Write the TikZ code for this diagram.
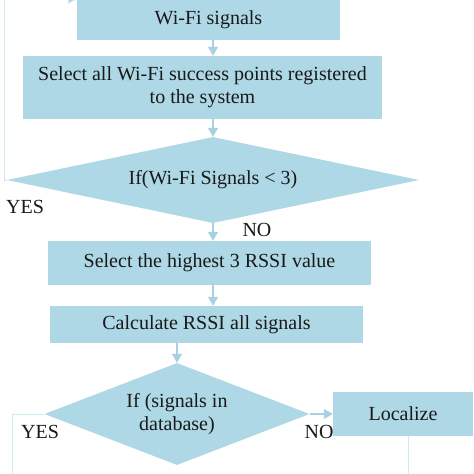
\documentclass[tikz,border=0pt]{standalone}
\usepackage{fontspec}
\setmainfont{Liberation Serif}
\usetikzlibrary{shapes.geometric,arrows.meta}
\definecolor{boxblue}{RGB}{174,216,229}
\definecolor{arrblue}{RGB}{168,210,226}
\definecolor{fbline}{RGB}{208,232,240}
\definecolor{txt}{RGB}{25,25,25}
\tikzset{
  procbox/.style={rectangle, fill=boxblue, draw=none, inner sep=0pt, text=txt, align=center,
    font=\fontsize{20}{23}\selectfont},
  decbox/.style={diamond, fill=boxblue, draw=none, inner sep=0pt, text=txt, align=center,
    font=\fontsize{20}{23}\selectfont},
  lbl/.style={inner sep=0pt, text=txt, font=\fontsize{20}{23}\selectfont},
  arr/.style={draw=arrblue, line width=1.3pt, -{Triangle[width=10pt,length=9pt]}},
  fb/.style={draw=fbline, line width=1pt},
  fbarr/.style={draw=fbline, line width=1pt, -{Triangle[width=10pt,length=9pt,fill=arrblue]}}
}
\begin{document}
\begin{tikzpicture}[x=1pt,y=-1pt]
\useasboundingbox (0,0) rectangle (474,474);
\clip (0,0) rectangle (474,474);
\fill[white] (0,0) rectangle (474,474);
\node[procbox, minimum width=263pt, minimum height=66pt, font=\fontsize{20}{25}\selectfont] (b1) at (208.5,7) {Find out all the available\\Wi-Fi signals};
\node[procbox, minimum width=359pt, minimum height=63pt] (b2) at (202.5,87.5) {Select all Wi-Fi success points registered\\to the system};
\node[decbox, shape aspect=4.8, minimum width=412pt, minimum height=86pt] (d1) at (213,180) {If(Wi-Fi Signals {<} 3)};
\node[procbox, minimum width=323pt, minimum height=44pt] (b3) at (209.5,263) {Select the highest 3 RSSI value};
\node[procbox, minimum width=313pt, minimum height=37pt] (b4) at (206.5,324.5) {Calculate RSSI all signals};
\node[decbox, shape aspect=2.6, minimum width=265pt, minimum height=102pt] (d2) at (177,414) {\rule{0pt}{6pt}If (signals in\\database)};
\node[procbox, minimum width=140pt, minimum height=44pt] (loc) at (403,414) {Localize};
\node[lbl] (yes1) at (25,207) {YES};
\node[lbl] (no1) at (257,230) {NO};
\node[lbl] (yes2) at (40,432) {YES};
\node[lbl] (no2) at (319,432) {NO};
\coordinate (lx) at (408,0);
\coordinate (ax) at (213,0);
% main flow
\draw[arr] (b1.south -| ax) -- (b2.north -| ax);
\draw[arr] (b2.south -| ax) -- (d1.north);
\draw[arr] (d1.south) -- (b3.north -| d1.south);
\draw[arr] (b3.south -| ax) -- (b4.north -| ax);
\draw[arr] (b4.south -| d2.north) -- (d2.north);
\draw[arr] (d2.east) -- (loc.west);
% feedback lines
\draw[fbarr] (d1.west) -- ++(-2,0) |- ([yshift=8pt]b1.west);
\draw[fb] (d2.west) -- ++(-32,0) -- ++(0,80);
\draw[fb] (loc.south -| lx) -- ++(0,60);
\end{tikzpicture}
\end{document}
